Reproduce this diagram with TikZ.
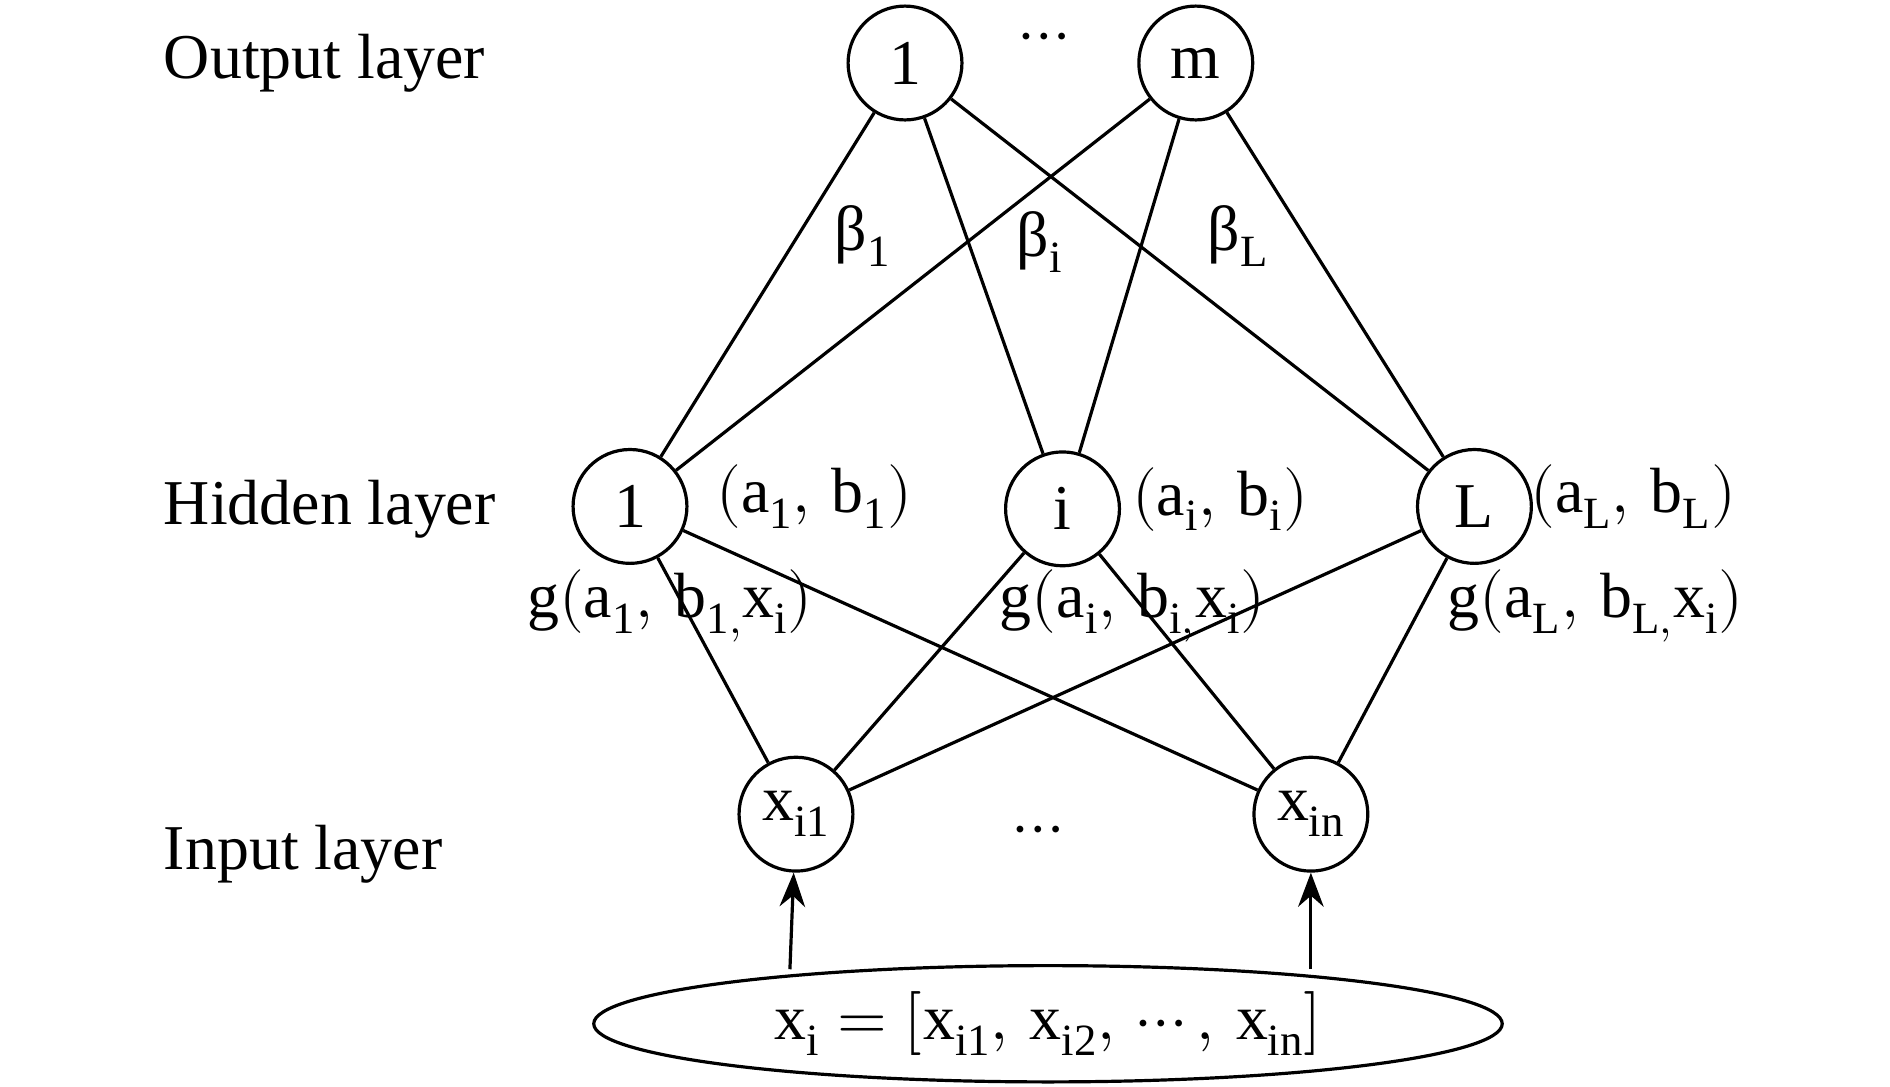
\documentclass[tikz,border=0pt]{standalone}
\usepackage{fontspec}
\setmainfont{Liberation Serif}
\usepackage{unicode-math}
\setmathfont{Latin Modern Math}
\setmathfont[range={it,bfit,up,bfup}]{Liberation Serif}
\usetikzlibrary{shapes.geometric,arrows.meta}
\begin{document}
\begin{tikzpicture}[x=0.02cm,y=-0.02cm,
  neu/.style={circle,draw,line width=1.5pt,minimum size=1.88cm,inner sep=0pt,font=\fontsize{30}{36}\selectfont},
  txt/.style={font=\fontsize{30}{36}\selectfont,inner sep=0pt},
  ln/.style={line width=1.5pt}]
\useasboundingbox (0,0) rectangle (1560,897);
\node[neu] (o1) at (747,52) {1};
\node[neu] (om) at (987,52) {$m$};
\node[txt] (od) at (862,35) {$\cdots$};
\node[neu] (h1) at (520,418) {1};
\node[neu] (hi) at (877,420) {$i$};
\node[neu] (hL) at (1217,418) {$L$};
\node[neu] (x1) at (657,672) {$x_{i1}$};
\node[neu] (xn) at (1082,672) {$x_{in}$};
\node[txt] (id) at (857,690) {$\cdots$};
\node[ellipse,draw,line width=1.5pt,minimum width=15cm,minimum height=1.92cm,inner sep=0pt,font=\fontsize{30}{36}\selectfont] (el) at (865,845) {$\symbfit{x}_i=[x_{i1},\,x_{i2},\,\cdots,\,x_{in}]$};
\node[txt,anchor=west] (lo) at (135,52) {Output layer};
\node[txt,anchor=west] (lh) at (135,420) {Hidden layer};
\node[txt,anchor=west] (li) at (135,705) {Input layer};
\foreach \a in {o1,om,x1,xn} \foreach \b in {h1,hi,hL} \draw[ln] (\a) -- (\b);
\coordinate (e1) at (652,800);
\coordinate (e2) at (1082,800);
\draw[ln,-{Stealth[length=16pt,width=12pt]}] (e1) -- (x1);
\draw[ln,-{Stealth[length=16pt,width=12pt]}] (e2) -- (xn);
\node[txt,fill=white,inner sep=1pt] (b1) at (712,195) {$\beta_1$};
\node[txt] (bi) at (858,200) {$\beta_i$};
\node[txt] (bL) at (1022,195) {$\beta_L$};
\node[txt] (p1) at (672,410) {$(\symbfit{a}_1,\,b_1)$};
\node[txt] (pi) at (1007,412) {$(\symbfit{a}_i,\,b_i)$};
\node[txt] (pL) at (1348,410) {$(\symbfit{a}_L,\,b_L)$};
\node[txt] (g1) at (553,500) {$g(\symbfit{a}_1,\,b_{1,}\symbfit{x}_i)$};
\node[txt] (gi) at (935,500) {$g(\symbfit{a}_i,\,b_{i,}\symbfit{x}_i)$};
\node[txt] (gL) at (1317,500) {$g(\symbfit{a}_L,\,b_{L,}\symbfit{x}_i)$};
\end{tikzpicture}
\end{document}
